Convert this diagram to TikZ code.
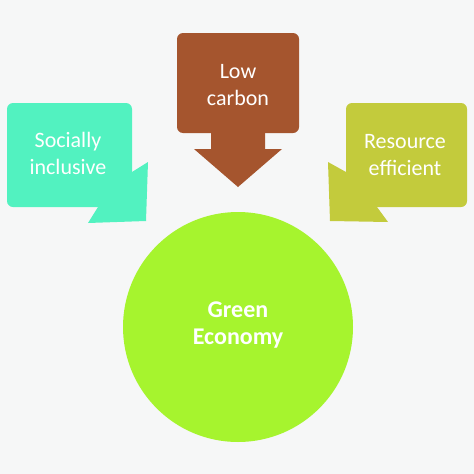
\documentclass[tikz,border=0pt]{standalone}
\usepackage{fontspec}
\setmainfont{Carlito}
\definecolor{bgc}{HTML}{F6F7F7}
\definecolor{aquac}{HTML}{52F2C0}
\definecolor{brownc}{HTML}{A5552E}
\definecolor{olivec}{HTML}{C3CB3C}
\definecolor{limec}{HTML}{A6F42E}
\begin{document}
\begin{tikzpicture}[x=1pt,y=-1pt,
  lbl/.style={text=white,font=\fontsize{22}{27}\selectfont,anchor=base,inner sep=0pt},
  blbl/.style={text=white,font=\fontsize{24}{27}\selectfont\bfseries,anchor=base,inner sep=0pt}]
\fill[bgc] (0,0) rectangle (474,474);
\useasboundingbox (0,0) rectangle (474,474);
% left callout
\fill[aquac,rounded corners=6pt] (7,103) rectangle (132,207);
\fill[aquac] (132,172) -- (148,162) -- (146,221) -- (88,223) -- (98,207) -- (118,190) -- cycle;
% middle
\fill[brownc,rounded corners=6pt] (177,33) rectangle (299,133);
\fill[brownc] (211,120) -- (211,149) -- (194,149) -- (238,187) -- (282,149) -- (265,149) -- (265,120) -- cycle;
% right callout
\fill[olivec,rounded corners=6pt] (346,103) rectangle (467,207);
\fill[olivec] (346,172) -- (328,162) -- (330,221) -- (388,222) -- (377,207) -- (360,190) -- cycle;
% circle
\node[circle,fill=limec,minimum size=230pt,inner sep=0pt] (ge) at (238,327) {};
% texts
\node[lbl] (si1) at (68,147) {Socially};
\node[lbl] (si2) at (68,174) {inclusive};
\node[lbl] (lc1) at (238,78) {Low};
\node[lbl] (lc2) at (238,105) {carbon};
\node[lbl] (re1) at (405,148) {Resource};
\node[lbl] (re2) at (405,175) {efficient};
\node[blbl] (ge1) at (238,317) {Green};
\node[blbl] (ge2) at (238,344) {Economy};
\end{tikzpicture}
\end{document}
